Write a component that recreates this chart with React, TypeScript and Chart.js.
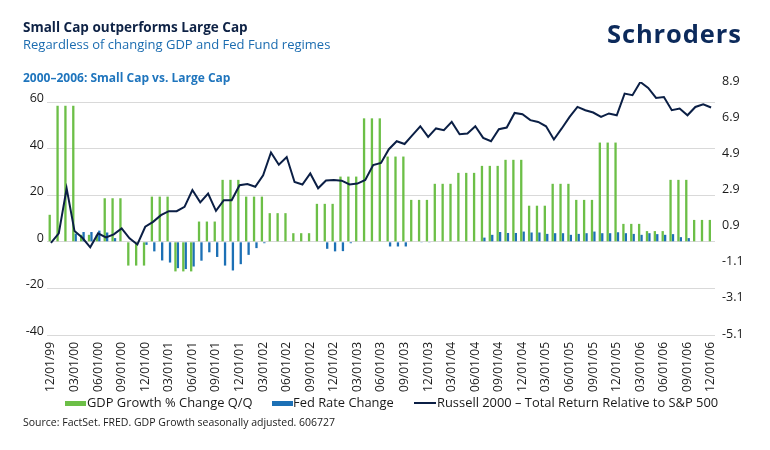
import React, { useEffect, useRef } from 'react';
import { Chart, registerables } from 'chart.js';

Chart.register(...registerables);

const categories = [
  '12/01/99',
  '01/01/00', '02/01/00', '03/01/00', '04/01/00', '05/01/00', '06/01/00', '07/01/00', '08/01/00', '09/01/00', '10/01/00', '11/01/00', '12/01/00',
  '01/01/01', '02/01/01', '03/01/01', '04/01/01', '05/01/01', '06/01/01', '07/01/01', '08/01/01', '09/01/01', '10/01/01', '11/01/01', '12/01/01',
  '01/01/02', '02/01/02', '03/01/02', '04/01/02', '05/01/02', '06/01/02', '07/01/02', '08/01/02', '09/01/02', '10/01/02', '11/01/02', '12/01/02',
  '01/01/03', '02/01/03', '03/01/03', '04/01/03', '05/01/03', '06/01/03', '07/01/03', '08/01/03', '09/01/03', '10/01/03', '11/01/03', '12/01/03',
  '01/01/04', '02/01/04', '03/01/04', '04/01/04', '05/01/04', '06/01/04', '07/01/04', '08/01/04', '09/01/04', '10/01/04', '11/01/04', '12/01/04',
  '01/01/05', '02/01/05', '03/01/05', '04/01/05', '05/01/05', '06/01/05', '07/01/05', '08/01/05', '09/01/05', '10/01/05', '11/01/05', '12/01/05',
  '01/01/06', '02/01/06', '03/01/06', '04/01/06', '05/01/06', '06/01/06', '07/01/06', '08/01/06', '09/01/06', '10/01/06', '11/01/06', '12/01/06',
];

// Left axis units
const gdpGrowth = [
  11.6,
  58.4, 58.4, 58.4, 3, 3, 3, 18.7, 18.7, 18.7, -10.2, -10.2, -10.2,
  19.4, 19.4, 19.4, -12.7, -12.7, -12.7, 8.7, 8.7, 8.7, 26.6, 26.6, 26.6,
  19.4, 19.4, 19.4, 12.3, 12.3, 12.3, 3.7, 3.7, 3.7, 16.3, 16.3, 16.3,
  28, 28, 28, 53, 53, 53, 36.6, 36.6, 36.6, 18, 18, 18,
  24.9, 24.9, 24.9, 29.6, 29.6, 29.6, 32.6, 32.6, 32.6, 35.2, 35.2, 35.2,
  15.5, 15.5, 15.5, 24.9, 24.9, 24.9, 18, 18, 18, 42.6, 42.6, 42.6,
  7.7, 7.7, 7.7, 4.6, 4.6, 4.6, 26.6, 26.6, 26.6, 9.4, 9.4, 9.4,
];

// Left axis units
const fedRateChange = [
  0,
  0, 0, 3.5, 4.2, 4.2, 4.8, 4, 1.6, 0, 0, 0, -1.3,
  -4.1, -8, -8.9, -11.3, -11.7, -10.6, -8.1, -4.5, -6.5, -10.2, -12.3, -9.6,
  -5.6, -2.7, -0.6, 0, 0, 0, 0, 0, 0, 0, -3, -4.1,
  -4, -0.6, 0, 0, 0, 0, -2, -2, -2, 0, -0.3, -0.3,
  0, 0, 0, 0, 0, 0, 1.8, 3, 4.2, 3.8, 3.8, 4.4,
  4, 4, 3.4, 3.7, 3.7, 3, 3.4, 3.7, 4.4, 3.7, 3.7, 4.1,
  3.7, 3.4, 3, 3.7, 3.3, 3, 3.3, 2, 1.6, 0, 0, 0,
];

// Right axis units
const russellRelative = [
  0,
  0.52, 3.01, 0.65, 0.28, -0.25, 0.52, 0.3, 0.47, 0.8, 0.25, -0.09, 0.89,
  1.16, 1.53, 1.75, 1.75, 1.99, 2.92, 2.24, 2.73, 1.77, 2.36, 2.36, 3.19,
  3.25, 3.1, 3.74, 5.0, 4.32, 4.75, 3.37, 3.23, 3.84, 3.02, 3.45, 3.48,
  3.44, 3.23, 3.28, 3.48, 4.3, 4.42, 5.18, 5.62, 5.47, 5.96, 6.45, 5.86,
  6.33, 6.23, 6.69, 6.01, 6.05, 6.45, 5.81, 5.62, 6.29, 6.38, 7.19, 7.12,
  6.79, 6.69, 6.45, 5.72, 6.33, 6.97, 7.52, 7.34, 7.21, 6.97, 7.16, 7.06,
  8.26, 8.17, 8.9, 8.57, 8.02, 8.07, 7.34, 7.43, 7.06, 7.52, 7.67, 7.49,
];

const leftTicks = [-40, -20, 0, 20, 40, 60];
const rightTicks = [-5.1, -3.1, -1.1, 0.9, 2.9, 4.9, 6.9, 8.9];

const FONT = "'Open Sans', 'Noto Sans', sans-serif";
const GREEN = '#6cbf47';
const BLUE = '#1c70b5';
const NAVY = '#0b1f45';

export default function App() {
  const ref = useRef<HTMLCanvasElement>(null);

  useEffect(() => {
    const chart = new Chart(ref.current!, {
      type: 'bar',
      data: {
        labels: categories,
        datasets: [
          {
            type: 'bar',
            label: 'GDP Growth % Change Q/Q',
            data: gdpGrowth,
            backgroundColor: GREEN,
            yAxisID: 'y',
            order: 1,
            categoryPercentage: 0.62,
            barPercentage: 0.95,
          },
          {
            type: 'bar',
            label: 'Fed Rate Change',
            data: fedRateChange,
            backgroundColor: BLUE,
            yAxisID: 'y',
            order: 1,
            categoryPercentage: 0.62,
            barPercentage: 0.95,
          },
          {
            type: 'line',
            label: 'Russell 2000 – Total Return Relative to S&P 500',
            data: russellRelative,
            borderColor: NAVY,
            backgroundColor: NAVY,
            borderWidth: 2,
            pointRadius: 0,
            tension: 0,
            yAxisID: 'y1',
            order: 0,
          },
        ],
      },
      options: {
        responsive: false,
        animation: false,
        devicePixelRatio: 1,
        layout: { padding: { top: 82, left: 0, right: 0, bottom: 0 } },
        plugins: {
          legend: { display: false },
          tooltip: { enabled: false },
          title: { display: false },
        },
        scales: {
          x: {
            type: 'category',
            offset: true,
            grid: { display: false, drawTicks: false },
            border: { display: false },
            ticks: {
              autoSkip: false,
              maxRotation: 90,
              minRotation: 90,
              padding: 7,
              color: '#1a1a1a',
              font: { family: FONT, size: 12 },
              callback: (_v: any, i: number) => (i % 3 === 0 ? categories[i] : ''),
            },
            afterFit: (s: any) => {
              s.height = 65;
            },
          },
          y: {
            position: 'left',
            min: -40,
            max: 68.6,
            afterBuildTicks: (s: any) => {
              s.ticks = leftTicks.map((v) => ({ value: v }));
            },
            grid: { color: '#d9d9d9', lineWidth: 1, drawTicks: false },
            border: { display: false },
            ticks: {
              padding: 3,
              labelOffset: -3.5,
              color: '#1a1a1a',
              font: { family: FONT, size: 12.5 },
              callback: (v: any) => String(v),
            },
            afterFit: (s: any) => {
              s.width = 47;
            },
          },
          y1: {
            position: 'right',
            min: -5.1,
            max: 8.9,
            afterBuildTicks: (s: any) => {
              s.ticks = rightTicks.map((v) => ({ value: v }));
            },
            grid: { display: false, drawTicks: false },
            border: { display: false },
            ticks: {
              padding: 7,
              labelOffset: -1,
              color: '#1a1a1a',
              font: { family: FONT, size: 12.5 },
              callback: (v: any) => Number(v).toFixed(1),
            },
            afterFit: (s: any) => {
              s.width = 55;
            },
          },
        },
      } as any,
    });
    return () => chart.destroy();
  }, []);

  const text = (top: number, left: number, size: number, color: string, weight: number, content: string, extra: any = {}) => (
    <div
      style={{
        position: 'absolute',
        top,
        left,
        fontSize: size,
        lineHeight: `${size}px`,
        color,
        fontWeight: weight,
        whiteSpace: 'nowrap',
        fontFamily: FONT,
        ...extra,
      }}
    >
      {content}
    </div>
  );

  return (
    <div
      style={{
        position: 'fixed',
        left: 0,
        top: 0,
        width: 770,
        height: 450,
        background: '#ffffff',
        overflow: 'hidden',
        fontFamily: FONT,
      }}
    >
      <canvas ref={ref} width={770} height={400} style={{ position: 'absolute', left: 0, top: 0, width: 770, height: 400 }} />
      {text(20.5, 23, 13.5, '#0e2245', 700, 'Small Cap outperforms Large Cap')}
      {text(37.5, 23, 13, '#1b6cb0', 400, 'Regardless of changing GDP and Fed Fund regimes')}
      {text(71.7, 23, 12, '#1f75bd', 700, '2000–2006: Small Cap vs. Large Cap')}
      {text(20.5, 607, 25.5, '#0c2a5b', 700, 'Schroders', { letterSpacing: '0.9px' })}

      <div style={{ position: 'absolute', left: 65, top: 400.5, width: 21, height: 5, background: GREEN }} />
      {text(396, 87, 12.9, '#1a1a1a', 400, 'GDP Growth % Change Q/Q')}
      <div style={{ position: 'absolute', left: 272, top: 400.5, width: 21, height: 5, background: BLUE }} />
      {text(396, 293, 12.9, '#1a1a1a', 400, 'Fed Rate Change')}
      <div style={{ position: 'absolute', left: 414, top: 402, width: 22, height: 2, background: NAVY }} />
      {text(396, 437, 12.9, '#1a1a1a', 400, 'Russell 2000 – Total Return Relative to S&P 500')}

      {text(417.2, 23, 10.5, '#1a1a1a', 400, 'Source: FactSet. FRED. GDP Growth seasonally adjusted. 606727')}
    </div>
  );
}
